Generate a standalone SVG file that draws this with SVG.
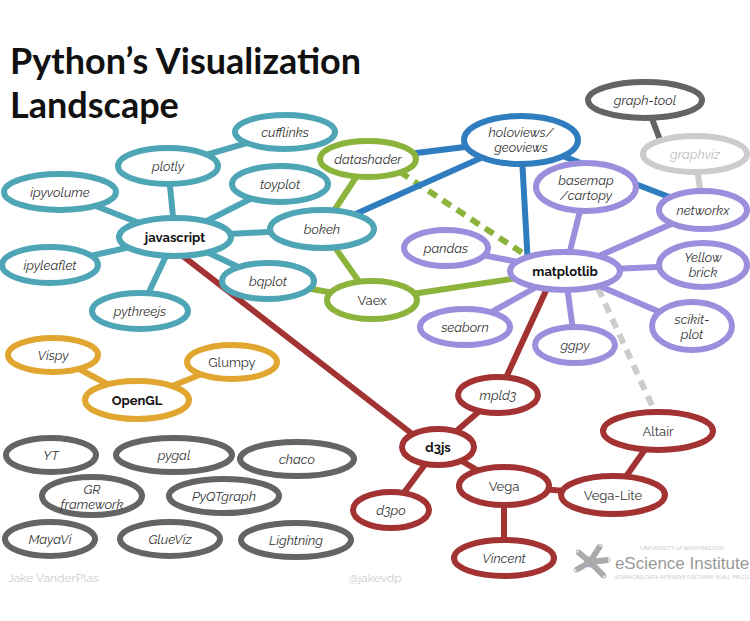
<svg xmlns="http://www.w3.org/2000/svg" width="750" height="621" viewBox="0 0 750 621">
<style>
text{font-family:"Raleway","Lato","Liberation Sans",sans-serif;font-size:13px;text-anchor:middle;dominant-baseline:central;fill:#333;font-style:italic}
.b{font-weight:bold;font-style:normal;fill:#111}
.n{font-style:normal}
ellipse{fill:#fff;stroke-width:6}
line{stroke-width:6}
.t{stroke:#4ea5b6}.g{stroke:#8cb43d}.bl{stroke:#2f7dbf}.p{stroke:#9b8fdd}.r{stroke:#a33333}.o{stroke:#e0a630}.k{stroke:#646464}.lk{stroke:#cccccc}
</style>
<rect width="750" height="621" fill="#fff"/>
<text x="10" y="60" class="b n" style="font-size:36px;text-anchor:start;font-family:'Lato','Liberation Sans',sans-serif">Python’s Visualization</text>
<text x="10" y="104" class="b n" style="font-size:36px;text-anchor:start;font-family:'Lato','Liberation Sans',sans-serif">Landscape</text>
<g id="connectors">
<line class="r" x1="175" y1="250" x2="420" y2="440"/>
<line x1="400" y1="172" x2="530" y2="258" stroke="#8cb43d" stroke-width="3" stroke-dasharray="10,7"/>
<line x1="598" y1="288" x2="655" y2="412" stroke="#cccccc" stroke-width="3" stroke-dasharray="10,7"/>
<line class="t" x1="175" y1="237" x2="168" y2="166"/>
<line class="t" x1="168" y1="166" x2="285" y2="132"/>
<line class="t" x1="175" y1="237" x2="60" y2="192"/>
<line class="t" x1="175" y1="237" x2="50" y2="265"/>
<line class="t" x1="175" y1="237" x2="140" y2="311"/>
<line class="t" x1="175" y1="237" x2="280" y2="184"/>
<line class="t" x1="175" y1="237" x2="322" y2="229"/>
<line class="t" x1="175" y1="237" x2="268" y2="281"/>
<line class="bl" x1="368" y1="159" x2="521" y2="140"/>
<line class="bl" x1="521" y1="140" x2="322" y2="229"/>
<line class="bl" x1="521" y1="140" x2="528" y2="265"/>
<line class="bl" x1="521" y1="140" x2="703" y2="210"/>
<line class="g" x1="368" y1="159" x2="322" y2="229"/>
<line class="g" x1="322" y1="229" x2="372" y2="300"/>
<line class="g" x1="268" y1="281" x2="372" y2="300"/>
<line class="g" x1="372" y1="300" x2="565" y2="271"/>
<line class="k" x1="645" y1="100" x2="660" y2="140"/>
<line class="lk" x1="695" y1="154" x2="703" y2="210"/>
<line class="p" x1="565" y1="271" x2="586" y2="187"/>
<line class="p" x1="565" y1="271" x2="703" y2="210"/>
<line class="p" x1="565" y1="271" x2="446" y2="248"/>
<line class="p" x1="565" y1="271" x2="703" y2="265"/>
<line class="p" x1="565" y1="271" x2="692" y2="326"/>
<line class="p" x1="565" y1="271" x2="465" y2="327"/>
<line class="p" x1="565" y1="271" x2="575" y2="345"/>
<line class="r" x1="555" y1="271" x2="498" y2="395"/>
<line class="r" x1="498" y1="395" x2="438" y2="447"/>
<line class="r" x1="438" y1="447" x2="504" y2="486"/>
<line class="r" x1="438" y1="447" x2="391" y2="510"/>
<line class="r" x1="504" y1="486" x2="613" y2="495"/>
<line class="r" x1="613" y1="495" x2="658" y2="431"/>
<line class="r" x1="504" y1="486" x2="504" y2="558"/>
<line class="o" x1="53" y1="355" x2="137" y2="400"/>
<line class="o" x1="232" y1="362" x2="137" y2="400"/>
</g>
<g id="cufflinks"><ellipse class="t" cx="285" cy="132" rx="50" ry="17"/><text x="285" y="132">cufflinks</text></g>
<g id="plotly"><ellipse class="t" cx="168" cy="166" rx="50" ry="18"/><text x="168" y="166">plotly</text></g>
<g id="toyplot"><ellipse class="t" cx="280" cy="184" rx="48" ry="18"/><text x="280" y="184">toyplot</text></g>
<g id="ipyvolume"><ellipse class="t" cx="60" cy="192" rx="56" ry="18"/><text x="60" y="192">ipyvolume</text></g>
<g id="javascript"><ellipse class="t" cx="175" cy="237" rx="56" ry="19"/><text x="175" y="237" class="b">javascript</text></g>
<g id="bokeh"><ellipse class="t" cx="322" cy="229" rx="52" ry="19"/><text x="322" y="229">bokeh</text></g>
<g id="ipyleaflet"><ellipse class="t" cx="50" cy="265" rx="48" ry="18"/><text x="50" y="265">ipyleaflet</text></g>
<g id="bqplot"><ellipse class="t" cx="268" cy="281" rx="46" ry="18"/><text x="268" y="281">bqplot</text></g>
<g id="pythreejs"><ellipse class="t" cx="140" cy="311" rx="48" ry="18"/><text x="140" y="311">pythreejs</text></g>
<g id="datashader"><ellipse class="g" cx="368" cy="159" rx="48" ry="18"/><text x="368" y="159">datashader</text></g>
<g id="vaex"><ellipse class="g" cx="372" cy="300" rx="45" ry="19"/><text x="372" y="300" class="n">Vaex</text></g>
<g id="holoviews"><ellipse class="bl" cx="521" cy="140" rx="57" ry="24"/><text x="521" y="132">holoviews/</text><text x="521" y="147">geoviews</text></g>
<g id="graph-tool"><ellipse class="k" cx="645" cy="100" rx="57" ry="18"/><text x="645" y="100">graph-tool</text></g>
<g id="graphviz"><ellipse class="lk" cx="695" cy="154" rx="52" ry="18"/><text x="695" y="154" style="fill:#bbb">graphviz</text></g>
<g id="basemap"><ellipse class="p" cx="586" cy="187" rx="50" ry="24"/><text x="586" y="180">basemap</text><text x="586" y="195">/cartopy</text></g>
<g id="networkx"><ellipse class="p" cx="703" cy="210" rx="44" ry="19"/><text x="703" y="210">networkx</text></g>
<g id="pandas"><ellipse class="p" cx="446" cy="248" rx="42" ry="18"/><text x="446" y="248">pandas</text></g>
<g id="matplotlib"><ellipse class="p" cx="565" cy="271" rx="55" ry="19"/><text x="565" y="271" class="b">matplotlib</text></g>
<g id="yellowbrick"><ellipse class="p" cx="703" cy="265" rx="44" ry="22"/><text x="703" y="257">Yellow</text><text x="703" y="272">brick</text></g>
<g id="scikit-plot"><ellipse class="p" cx="692" cy="326" rx="40" ry="24"/><text x="692" y="319">scikit-</text><text x="692" y="334">plot</text></g>
<g id="seaborn"><ellipse class="p" cx="465" cy="327" rx="45" ry="18"/><text x="465" y="327">seaborn</text></g>
<g id="ggpy"><ellipse class="p" cx="575" cy="345" rx="40" ry="18"/><text x="575" y="345">ggpy</text></g>
<g id="mpld3"><ellipse class="r" cx="498" cy="395" rx="40" ry="18"/><text x="498" y="395">mpld3</text></g>
<g id="d3js"><ellipse class="r" cx="438" cy="447" rx="36" ry="18"/><text x="438" y="447" class="b">d3js</text></g>
<g id="altair"><ellipse class="r" cx="658" cy="431" rx="55" ry="19"/><text x="658" y="431" class="n">Altair</text></g>
<g id="vega"><ellipse class="r" cx="504" cy="486" rx="45" ry="19"/><text x="504" y="486" class="n">Vega</text></g>
<g id="vega-lite"><ellipse class="r" cx="613" cy="495" rx="52" ry="19"/><text x="613" y="495" class="n">Vega-Lite</text></g>
<g id="d3po"><ellipse class="r" cx="391" cy="510" rx="38" ry="18"/><text x="391" y="510">d3po</text></g>
<g id="vincent"><ellipse class="r" cx="504" cy="558" rx="50" ry="18"/><text x="504" y="558">Vincent</text></g>
<g id="vispy"><ellipse class="o" cx="53" cy="355" rx="45" ry="17"/><text x="53" y="355">Vispy</text></g>
<g id="glumpy"><ellipse class="o" cx="232" cy="362" rx="45" ry="17"/><text x="232" y="362" class="n">Glumpy</text></g>
<g id="opengl"><ellipse class="o" cx="137" cy="400" rx="52" ry="19"/><text x="137" y="400" class="b">OpenGL</text></g>
<g id="yt"><ellipse class="k" cx="51" cy="455" rx="45" ry="17"/><text x="51" y="455">YT</text></g>
<g id="pygal"><ellipse class="k" cx="174" cy="455" rx="58" ry="17"/><text x="174" y="455">pygal</text></g>
<g id="chaco"><ellipse class="k" cx="297" cy="459" rx="57" ry="17"/><text x="297" y="459">chaco</text></g>
<g id="gr"><ellipse class="k" cx="92" cy="496" rx="50" ry="19"/><text x="92" y="489">GR</text><text x="92" y="504">framework</text></g>
<g id="pyqtgraph"><ellipse class="k" cx="224" cy="496" rx="55" ry="17"/><text x="224" y="496">PyQTgraph</text></g>
<g id="mayavi"><ellipse class="k" cx="50" cy="539" rx="45" ry="17"/><text x="50" y="539">MayaVi</text></g>
<g id="glueviz"><ellipse class="k" cx="170" cy="539" rx="50" ry="17"/><text x="170" y="539">GlueViz</text></g>
<g id="lightning"><ellipse class="k" cx="296" cy="540" rx="55" ry="17"/><text x="296" y="540">Lightning</text></g>
<text x="8" y="578" class="n" style="text-anchor:start;fill:#ccc;font-size:12px">Jake VanderPlas</text>
<text x="375" y="578" class="n" style="fill:#ccc;font-size:12px">@jakevdp</text>
<g id="logo" stroke="#aaa" fill="none" stroke-width="1">
<circle cx="590" cy="562" r="5" fill="#a9a3d6" stroke="#a9a3d6"/>
<line x1="590" y1="562" x2="578" y2="552" stroke-width="1"/><line x1="590" y1="562" x2="600" y2="546" stroke-width="1"/><line x1="590" y1="562" x2="576" y2="570" stroke-width="1"/><line x1="590" y1="562" x2="604" y2="576" stroke-width="1"/><line x1="590" y1="562" x2="608" y2="560" stroke-width="1"/>
<circle cx="578" cy="552" r="2"/><circle cx="600" cy="546" r="2"/><circle cx="576" cy="570" r="2"/><circle cx="604" cy="576" r="2"/><circle cx="608" cy="560" r="2"/>
</g>
<text x="682" y="547" class="n" style="fill:#bbb;font-size:6px">UNIVERSITY of WASHINGTON</text>
<text x="682" y="563" class="n" style="fill:#999;font-size:17px;font-family:'Liberation Sans',sans-serif">eScience Institute</text>
<text x="682" y="577" class="n" style="fill:#bbb;font-size:5px">ADVANCING DATA-INTENSIVE DISCOVERY IN ALL FIELDS</text>
</svg>
